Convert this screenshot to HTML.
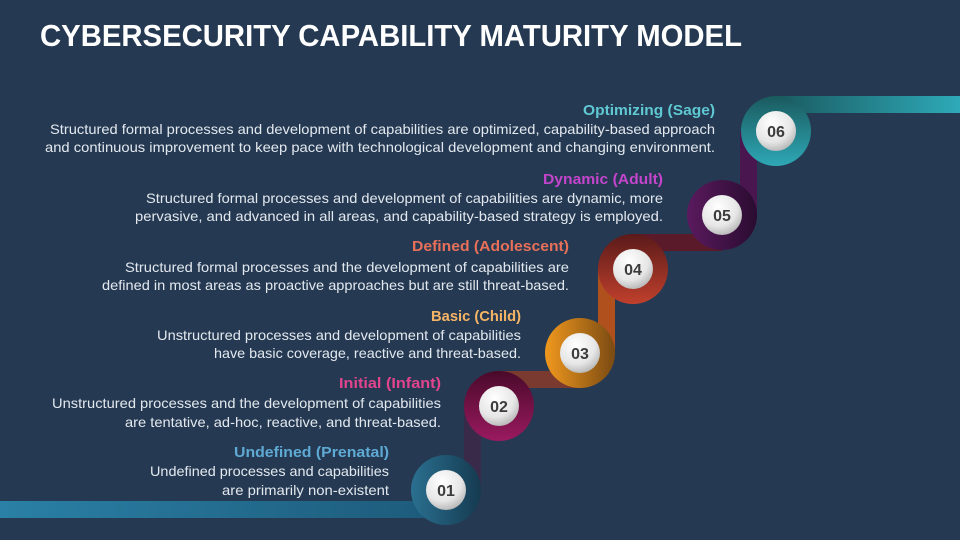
<!DOCTYPE html>
<html><head><meta charset="utf-8"><style>
html,body{margin:0;padding:0;background:#253a52;}
svg{display:block;font-family:"Liberation Sans",sans-serif;}
.b{fill:#e3e8ef;font-size:14px;}
.t{font-size:15px;font-weight:bold;}
.n{fill:#3c3c3c;font-size:16px;font-weight:bold;}
</style></head><body>
<svg width="960" height="540" viewBox="0 0 960 540">
<defs>
<linearGradient id="g1" x1="0" x2="1"><stop offset="0" stop-color="#2a7090"/><stop offset="1" stop-color="#153a50"/></linearGradient>
<linearGradient id="g2" x1="0" y1="0" x2="0" y2="1"><stop offset="0" stop-color="#4a0a2a"/><stop offset="1" stop-color="#9a1a60"/></linearGradient>
<linearGradient id="g3" x1="0" x2="1"><stop offset="0" stop-color="#f0981e"/><stop offset="1" stop-color="#7a4a12"/></linearGradient>
<linearGradient id="g4" x1="0" y1="0" x2="0" y2="1"><stop offset="0" stop-color="#5a1a1a"/><stop offset="1" stop-color="#c0402c"/></linearGradient>
<linearGradient id="g5" x1="0" x2="1"><stop offset="0" stop-color="#5a1a5e"/><stop offset="1" stop-color="#2a0c30"/></linearGradient>
<linearGradient id="g6" x1="0" y1="0" x2="0" y2="1"><stop offset="0" stop-color="#1a5a5e"/><stop offset="1" stop-color="#2ea8b6"/></linearGradient>
<linearGradient id="bR" x1="0" x2="1"><stop offset="0" stop-color="#1a5a60"/><stop offset="1" stop-color="#2eaab8"/></linearGradient>
<linearGradient id="bL" x1="0" x2="1"><stop offset="0" stop-color="#2a80a6"/><stop offset="1" stop-color="#1d5a7a"/></linearGradient>
<radialGradient id="w" cx="0.4" cy="0.3" r="0.8"><stop offset="0" stop-color="#ffffff"/><stop offset="0.6" stop-color="#e6e6e6"/><stop offset="1" stop-color="#a8a8a8"/></radialGradient>
</defs>
<text x="40" y="46" fill="#fff" font-size="31" font-weight="bold" textLength="702" lengthAdjust="spacingAndGlyphs">CYBERSECURITY CAPABILITY MATURITY MODEL</text>
<!-- bands -->
<rect x="0" y="501" width="446" height="17" fill="url(#bL)"/>
<rect x="464" y="406" width="17" height="84" fill="#3a2a4a"/>
<rect x="499" y="371" width="81" height="17" fill="#7a3a30"/>
<rect x="598" y="269" width="17" height="84" fill="#b0501c"/>
<rect x="633" y="234" width="89" height="17" fill="#5a1a2a"/>
<rect x="740" y="131" width="17" height="84" fill="#4a1650"/>
<rect x="776" y="96" width="184" height="17" fill="url(#bR)"/>
<!-- circles -->
<circle cx="446" cy="490" r="35" fill="url(#g1)"/>
<circle cx="499" cy="406" r="35" fill="url(#g2)"/>
<circle cx="580" cy="353" r="35" fill="url(#g3)"/>
<circle cx="633" cy="269" r="35" fill="url(#g4)"/>
<circle cx="722" cy="215" r="35" fill="url(#g5)"/>
<circle cx="776" cy="131" r="35" fill="url(#g6)"/>
<g fill="url(#w)">
<circle cx="446" cy="490" r="20"/><circle cx="499" cy="406" r="20"/><circle cx="580" cy="353" r="20"/>
<circle cx="633" cy="269" r="20"/><circle cx="722" cy="215" r="20"/><circle cx="776" cy="131" r="20"/>
</g>
<g class="n" text-anchor="middle">
<text x="446" y="496">01</text><text x="499" y="412">02</text><text x="580" y="359">03</text>
<text x="633" y="275">04</text><text x="722" y="221">05</text><text x="776" y="137">06</text>
</g>
<g text-anchor="end">
<text class="t" x="715" y="115" fill="#5fc8d2" textLength="132" lengthAdjust="spacingAndGlyphs">Optimizing (Sage)</text>
<text class="b" x="715" y="134" textLength="665" lengthAdjust="spacingAndGlyphs">Structured formal processes and development of capabilities are optimized, capability-based approach</text>
<text class="b" x="715" y="152" textLength="670" lengthAdjust="spacingAndGlyphs">and continuous improvement to keep pace with technological development and changing environment.</text>
<text class="t" x="663" y="184" fill="#c444cc" textLength="120" lengthAdjust="spacingAndGlyphs">Dynamic (Adult)</text>
<text class="b" x="663" y="203" textLength="517" lengthAdjust="spacingAndGlyphs">Structured formal processes and development of capabilities are dynamic, more</text>
<text class="b" x="663" y="221" textLength="528" lengthAdjust="spacingAndGlyphs">pervasive, and advanced in all areas, and capability-based strategy is employed.</text>
<text class="t" x="569" y="251" fill="#e8705a" textLength="157" lengthAdjust="spacingAndGlyphs">Defined (Adolescent)</text>
<text class="b" x="569" y="272" textLength="444" lengthAdjust="spacingAndGlyphs">Structured formal processes and the development of capabilities are</text>
<text class="b" x="569" y="290" textLength="467" lengthAdjust="spacingAndGlyphs">defined in most areas as proactive approaches but are still threat-based.</text>
<text class="t" x="521" y="321" fill="#f6b466" textLength="90" lengthAdjust="spacingAndGlyphs">Basic (Child)</text>
<text class="b" x="521" y="340" textLength="364" lengthAdjust="spacingAndGlyphs">Unstructured processes and development of capabilities</text>
<text class="b" x="521" y="358" textLength="307" lengthAdjust="spacingAndGlyphs">have basic coverage, reactive and threat-based.</text>
<text class="t" x="441" y="388" fill="#e2448e" textLength="102" lengthAdjust="spacingAndGlyphs">Initial (Infant)</text>
<text class="b" x="441" y="408" textLength="389" lengthAdjust="spacingAndGlyphs">Unstructured processes and the development of capabilities</text>
<text class="b" x="441" y="427" textLength="316" lengthAdjust="spacingAndGlyphs">are tentative, ad-hoc, reactive, and threat-based.</text>
<text class="t" x="389" y="457" fill="#5eaad4" textLength="155" lengthAdjust="spacingAndGlyphs">Undefined (Prenatal)</text>
<text class="b" x="389" y="476" textLength="239" lengthAdjust="spacingAndGlyphs">Undefined processes and capabilities</text>
<text class="b" x="389" y="495" textLength="167" lengthAdjust="spacingAndGlyphs">are primarily non-existent</text>
</g>
</svg>
</body></html>
